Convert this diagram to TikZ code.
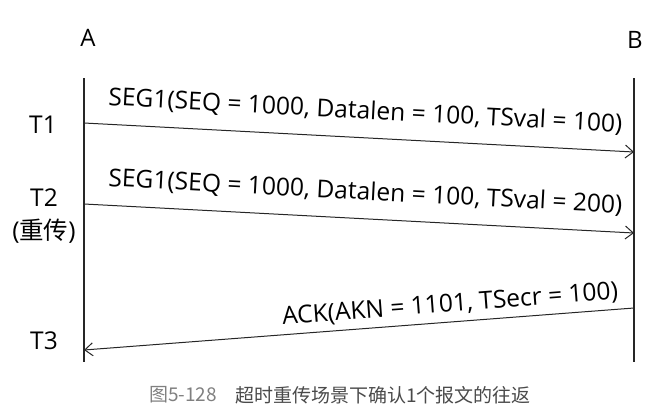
\documentclass[tikz,border=0pt]{standalone}
\usepackage{fontspec}
\setmainfont{Open Sans}
\newfontfamily\cjk{Noto Sans CJK SC}
\usetikzlibrary{arrows.meta}
\definecolor{linec}{HTML}{262626}
\definecolor{capA}{HTML}{808080}
\definecolor{capB}{HTML}{4A4A4A}
\tikzset{
  lifeline/.style={draw=linec, line width=1.1pt},
  msg/.style={draw=linec, line width=1pt, -{Straight Barb[length=8pt,width=13pt,line width=1pt]}},
  msgback/.style={draw=linec, line width=1pt, {Straight Barb[length=8pt,width=13pt,line width=1pt]}-},
  party/.style={inner sep=0pt, font=\fontsize{24}{28}\selectfont},
  tlabel/.style={inner sep=0pt, font=\fontsize{24.5}{28}\selectfont, align=center},
  mlabel/.style={inner sep=0pt, sloped, anchor=base, font=\fontsize{24.6}{28}\selectfont},
  caption/.style={inner sep=0pt, anchor=west, font=\cjk\fontsize{19}{22}\selectfont}
}
\begin{document}
\begin{tikzpicture}[x=1pt,y=-1pt]
\useasboundingbox (0,0) rectangle (662,413);
% parties
\node[party] (A) at (88,38) {A};
\node[party] (B) at (635,40) {B};
% lifelines
\coordinate (Atop) at (84,78);
\coordinate (Abot) at (84,362);
\coordinate (Btop) at (634,78);
\coordinate (Bbot) at (634,362);
\draw[lifeline] (Atop) -- (Abot);
\draw[lifeline] (Btop) -- (Bbot);
% message points
\coordinate (a1) at (84,123);
\coordinate (b1) at (634,152);
\coordinate (a2) at (84,204);
\coordinate (b2) at (634,233);
\coordinate (b3) at (634,308);
\coordinate (a3) at (84,350);
% time labels
\node[tlabel] (T1) at (43,125) {T1};
\node[tlabel] (T2) at (44,198) {T2};
\node[tlabel] (T2r) at (44,231) {({\cjk 重传})};
\node[tlabel] (T3) at (44,341) {T3};
% messages
\draw[msg] (a1) -- (b1) node[mlabel, pos=0.509, yshift=19pt] (m1) {SEG1(SEQ = 1000, Datalen = 100, TSval = 100)};
\draw[msg] (a2) -- (b2) node[mlabel, pos=0.509, yshift=19pt] (m2) {SEG1(SEQ = 1000, Datalen = 100, TSval = 200)};
\draw[msgback] (a3) -- (b3) node[mlabel, pos=0.668, yshift=10pt] (m3) {ACK(AKN = 1101, TSecr = 100)};
% caption
\node[caption, text=capA] (capnum) at (149,395) {图5-128};
\node[caption, text=capB] (captext) at (235,395) {超时重传场景下确认1个报文的往返};
\end{tikzpicture}
\end{document}
